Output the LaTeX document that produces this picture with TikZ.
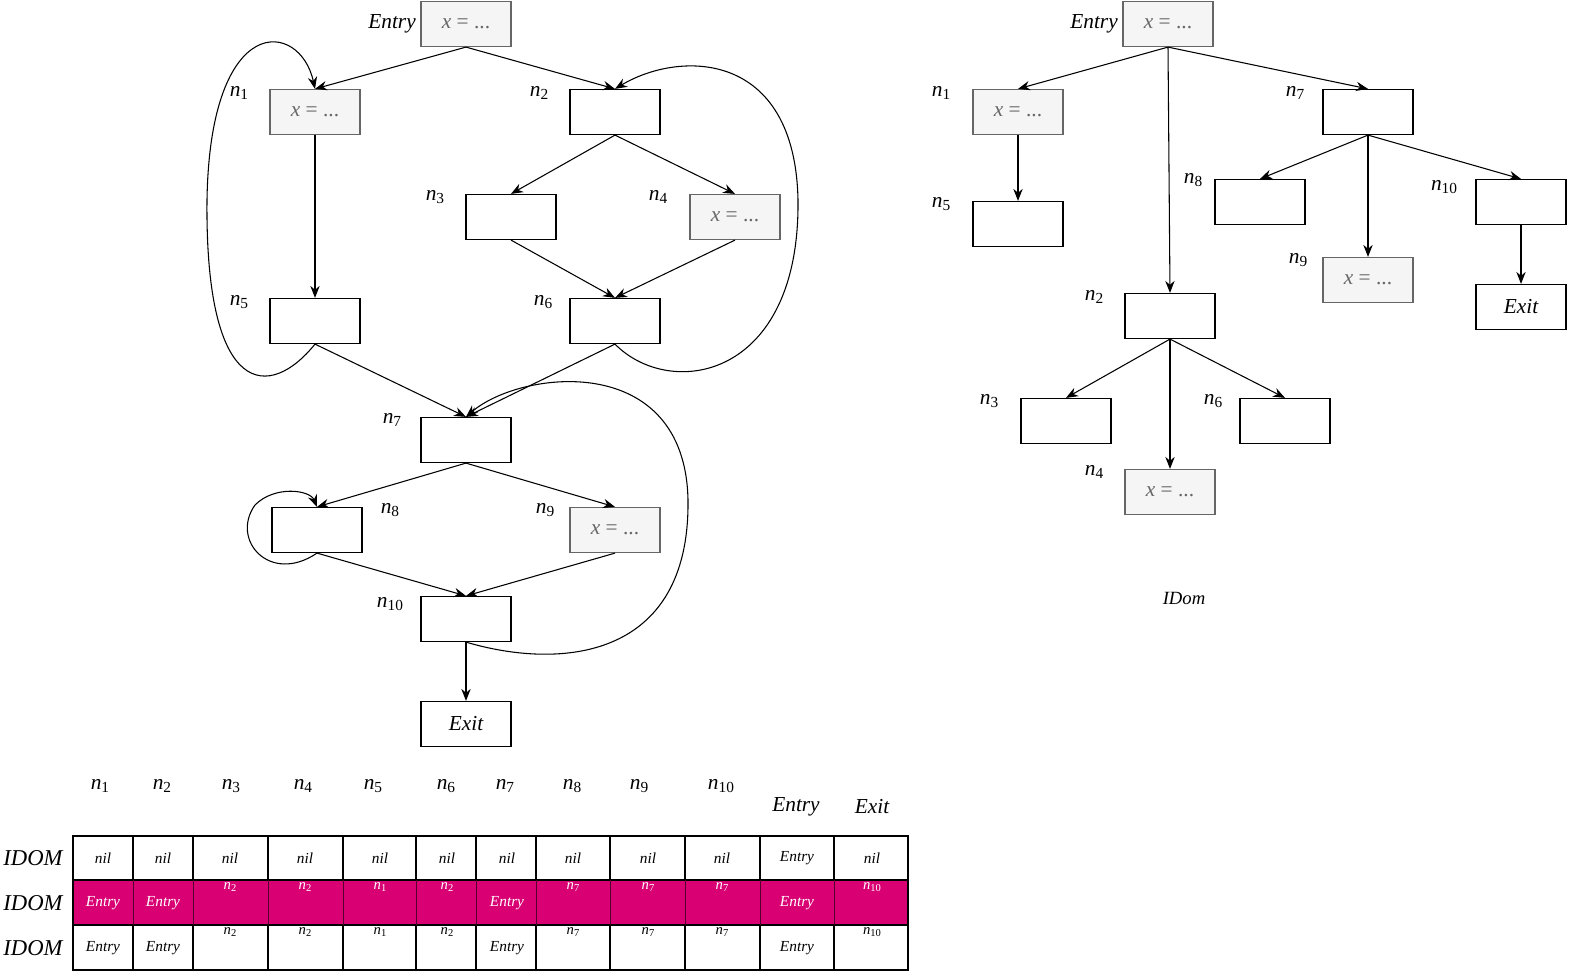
\documentclass[tikz,border=0pt]{standalone}
\usepackage{fontspec}
\setmainfont{Liberation Serif}
\usetikzlibrary{arrows.meta}
\definecolor{gfill}{HTML}{F5F5F5}
\definecolor{gline}{HTML}{666666}
\definecolor{mag}{HTML}{D80073}
\newcommand{\nsub}[1]{\textit{n}\raisebox{-0.35ex}{\fontsize{0.72em}{1em}\selectfont\upshape #1}}
\newcommand{\xeq}{\textit{x} = ...}
\begin{document}
\begin{tikzpicture}[x=0.75pt,y=-0.75pt,
  box/.style={draw,line width=0.9pt,minimum width=67.5pt,minimum height=33.75pt,inner sep=0pt},
  gbox/.style={box,draw=gline,fill=gfill,text=gline,font=\fontsize{16}{18}\selectfont\upshape},
  lab/.style={font=\fontsize{16}{19}\selectfont\itshape,inner sep=0pt},
  cell/.style={font=\fontsize{11.5}{13}\selectfont\itshape,inner sep=0pt},
  sub/.style={font=\fontsize{11}{12}\selectfont\itshape,inner sep=0pt},
  e/.style={-{Stealth[length=9pt,width=7pt]},line width=0.8pt}]
\useasboundingbox (0,0) rectangle (1577,977);
% left graph
\node[gbox] (en) at (466,24) {\xeq};
\node[gbox] (a1) at (315,112) {\xeq};
\node[box] (a2) at (615,112) {};
\node[box] (a3) at (511,217) {};
\node[gbox] (a4) at (735,217) {\xeq};
\node[box] (a5) at (315,321) {};
\node[box] (a6) at (615,321) {};
\node[box] (a7) at (466,440) {};
\node[box] (a8) at (317,530) {};
\node[gbox] (a9) at (615,530) {\xeq};
\node[box] (a10) at (466,619) {};
\node[box,lab] (ex) at (466,724) {Exit};
\node[lab,anchor=east] at (416,24) {Entry};
\node[lab] at (239,93) {\nsub{1}};
\node[lab] at (539,93) {\nsub{2}};
\node[lab] at (435,197) {\nsub{3}};
\node[lab] at (658,197) {\nsub{4}};
\node[lab] at (239,302) {\nsub{5}};
\node[lab] at (543,302) {\nsub{6}};
\node[lab] at (392,420) {\nsub{7}};
\node[lab] at (390,510) {\nsub{8}};
\node[lab] at (545,510) {\nsub{9}};
\node[lab] at (390,604) {\nsub{10}};
\draw[e] (en.south) -- (a1.north);
\draw[e] (en.south) -- (a2.north);
\draw[e] (a1.south) -- (a5.north);
\draw[e] (a2.south) -- (a3.north);
\draw[e] (a2.south) -- (a4.north);
\draw[e] (a3.south) -- (a6.north);
\draw[e] (a4.south) -- (a6.north);
\draw[e] (a5.south) -- (a7.north);
\draw[e] (a6.south) -- (a7.north);
\draw[e] (a7.south) -- (a8.north);
\draw[e] (a7.south) -- (a9.north);
\draw[e] (a8.south) -- (a10.north);
\draw[e] (a9.south) -- (a10.north);
\draw[e] (a10.south) -- (ex.north);
\draw[e] (a5.south) .. controls (270,400) and (205,400) .. (207,200) .. controls (210,10) and (300,20) .. (a1.north);
\draw[e] (a6.south) .. controls (670,400) and (800,380) .. (798,200) .. controls (795,50) and (680,50) .. (a2.north);
\draw[e] (a10.south) .. controls (560,670) and (690,660) .. (688,500) .. controls (685,350) and (520,370) .. (a7.north);
\draw[e] (a8.south) .. controls (270,585) and (230,540) .. (255,505) .. controls (275,485) and (310,490) .. (a8.north);
% right tree
\node[gbox] (ren) at (1168,24) {\xeq};
\node[lab,anchor=east] at (1118,24) {Entry};
\node[gbox] (r1) at (1018,112) {\xeq};
\node[box] (r7) at (1368,112) {};
\node[box] (r5) at (1018,224) {};
\node[box] (r8) at (1260,202) {};
\node[box] (r10) at (1521,202) {};
\node[gbox] (r9) at (1368,280) {\xeq};
\node[box,lab] (rex) at (1521,307) {Exit};
\node[box] (r2) at (1170,316) {};
\node[box] (r3) at (1066,421) {};
\node[box] (r6) at (1285,421) {};
\node[gbox] (r4) at (1170,492) {\xeq};
\node[lab] at (941,93) {\nsub{1}};
\node[lab] at (1295,93) {\nsub{7}};
\node[lab] at (941,204) {\nsub{5}};
\node[lab] at (1193,180) {\nsub{8}};
\node[lab] at (1444,187) {\nsub{10}};
\node[lab] at (1298,260) {\nsub{9}};
\node[lab] at (1094,297) {\nsub{2}};
\node[lab] at (989,401) {\nsub{3}};
\node[lab] at (1213,401) {\nsub{6}};
\node[lab] at (1094,472) {\nsub{4}};
\node[font=\fontsize{14}{16}\selectfont\itshape] at (1184,598) {IDom};
\draw[e] (ren.south) -- (r1.north);
\draw[e] (ren.south) -- (r7.north);
\draw[e] (ren.south) -- (r2.north);
\draw[e] (r1.south) -- (r5.north);
\draw[e] (r7.south) -- (r8.north);
\draw[e] (r7.south) -- (r9.north);
\draw[e] (r7.south) -- (r10.north);
\draw[e] (r10.south) -- (rex.north);
\draw[e] (r2.south) -- (r3.north);
\draw[e] (r2.south) -- (r4.north);
\draw[e] (r2.south) -- (r6.north);
% table
\fill[mag] (73,880) rectangle (908,925);
\draw[line width=0.9pt] (73,836) rectangle (908,970);
\draw[line width=0.9pt] (73,880) -- (908,880) (73,925) -- (908,925);
\foreach \x in {133,193,268,343,416,476,536,610,685,760,834}
  {\draw[line width=0.9pt] (\x,836) -- (\x,880) (\x,925) -- (\x,970);
   \draw[line width=0.6pt,black!60!mag] (\x,880) -- (\x,925);}
\foreach \x/\t in {100/1,162/2,231/3,303/4,373/5,446/6,505/7,572/8,639/9,721/10}
  \node[lab] at (\x,786) {\nsub{\t}};
\node[lab] at (796,807) {Entry};
\node[lab] at (872,807) {Exit};
\foreach \y in {858,903,948} \node[lab,font=\fontsize{17}{19}\selectfont\itshape] at (33,\y) {IDOM};
\foreach \x in {103,163,230,305,380,447,507,573,648,722,872} \node[cell] at (\x,858) {nil};
\node[cell] at (797,858) {Entry};
\foreach \x in {103,163,507,797} {
  \node[cell,text=white] at (\x,903) {Entry};
  \node[cell] at (\x,948) {Entry};}
\foreach \x/\s in {230/2,305/2,380/1,447/2,573/7,648/7,722/7,872/10} {
  \node[sub,text=white] at (\x,887) {\nsub{\s}};
  \node[sub] at (\x,932) {\nsub{\s}};}
\end{tikzpicture}
\end{document}
